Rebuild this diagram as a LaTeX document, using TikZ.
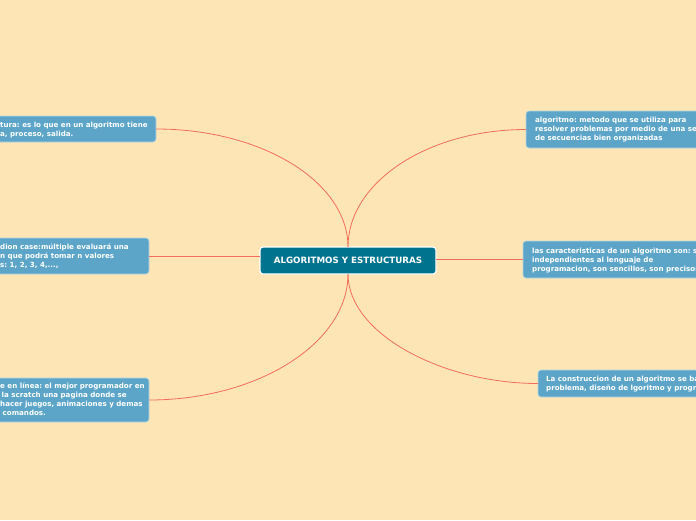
\documentclass[tikz,border=0pt]{standalone}
\usepackage{fontspec}
\setmainfont{DejaVu Sans}
\frenchspacing
\definecolor{bg}{HTML}{FEE5B5}
\definecolor{leafc}{HTML}{5CA5C8}
\definecolor{rootc}{HTML}{00738F}
\definecolor{linkc}{HTML}{F26D5B}
\newcommand{\lines}[1]{\begin{tabular}{@{}l@{}}#1\end{tabular}}
\begin{document}
\begin{tikzpicture}[x=1pt,y=-1pt,
  leaf/.style={rectangle, rounded corners=3pt, fill=leafc, draw=white!55!leafc, line width=0.6pt,
    inner sep=0pt, anchor=north west, outer sep=0pt},
  leaftext/.style={text=white, font=\fontsize{7.1}{9}\selectfont\bfseries,
    inner sep=0pt, anchor=west},
  root/.style={rectangle, rounded corners=3pt, fill=rootc, draw=white, line width=1.2pt,
    text=white, font=\fontsize{8.7}{10}\selectfont\bfseries, minimum width=176pt,
    minimum height=27pt, inner sep=0pt, outer sep=0pt},
  link/.style={draw=linkc, line width=0.8pt}]
\useasboundingbox (0,0) rectangle (696,520);
\clip (0,0) rectangle (696,520);
\fill[bg] (0,0) rectangle (696,520);

\node[root] (c) at (348,260.5) {ALGORITMOS Y ESTRUCTURAS};

\node[leaf, minimum width=176pt, minimum height=26pt] (l1) at (-20,116) {};
\node[leaftext] (l1t) at (0,130) {\lines{tura: es lo que en un algoritmo tiene\\a, proceso, salida.}};
\node[leaf, minimum width=169pt, minimum height=36pt] (l2) at (-20,238) {};
\node[leaftext] (l2t) at (0,256.5) {\lines{dion case:múltiple evaluará una\\n que podrá tomar n valores\\s: 1, 2, 3, 4,...,}};
\node[leaf, minimum width=169pt, minimum height=44pt] (l3) at (-20,378) {};
\node[leaftext] (l3t) at (0,400.5) {\lines{e en línea: el mejor programador en\\\hspace*{1.5pt}la scratch una pagina donde se\\hacer juegos, animaciones y demas\\\hspace*{2.5pt}comandos.}};

\node[leaf, minimum width=200pt, minimum height=37pt] (r1) at (526,111) {};
\node[leaftext] (r1t) at (535,130) {\lines{algoritmo: metodo que se utiliza para\\resolver problemas por medio de una ser\\de secuencias bien organizadas}};
\node[leaf, minimum width=200pt, minimum height=37pt] (r2) at (523,241) {};
\node[leaftext] (r2t) at (532,260.5) {\lines{las caracteristicas de un algoritmo son: so\\independientes al lenguaje de\\programacion, son sencillos, son precisos}};
\node[leaf, minimum width=200pt, minimum height=27pt] (r3) at (538,370) {};
\node[leaftext] (r3t) at (546,384.5) {\lines{La construccion de un algoritmo se ba\\problema, diseño de lgoritmo y progra}};

\draw[link] (c.north) .. controls +(0,-65) and +(106,0) .. (l1.east);
\draw[link] (c.north) .. controls +(0,-65) and +(-98,0) .. (r1.west);
\draw[link] (l2.east) -- (l2.east -| c.west);
\draw[link] (c.east |- r2.west) -- (r2.west);
\draw[link] (c.south) .. controls +(0,69) and +(109,0) .. (l3.east);
\draw[link] (c.south) .. controls +(0,60) and +(-95,0) .. (r3.west);
\end{tikzpicture}
\end{document}
